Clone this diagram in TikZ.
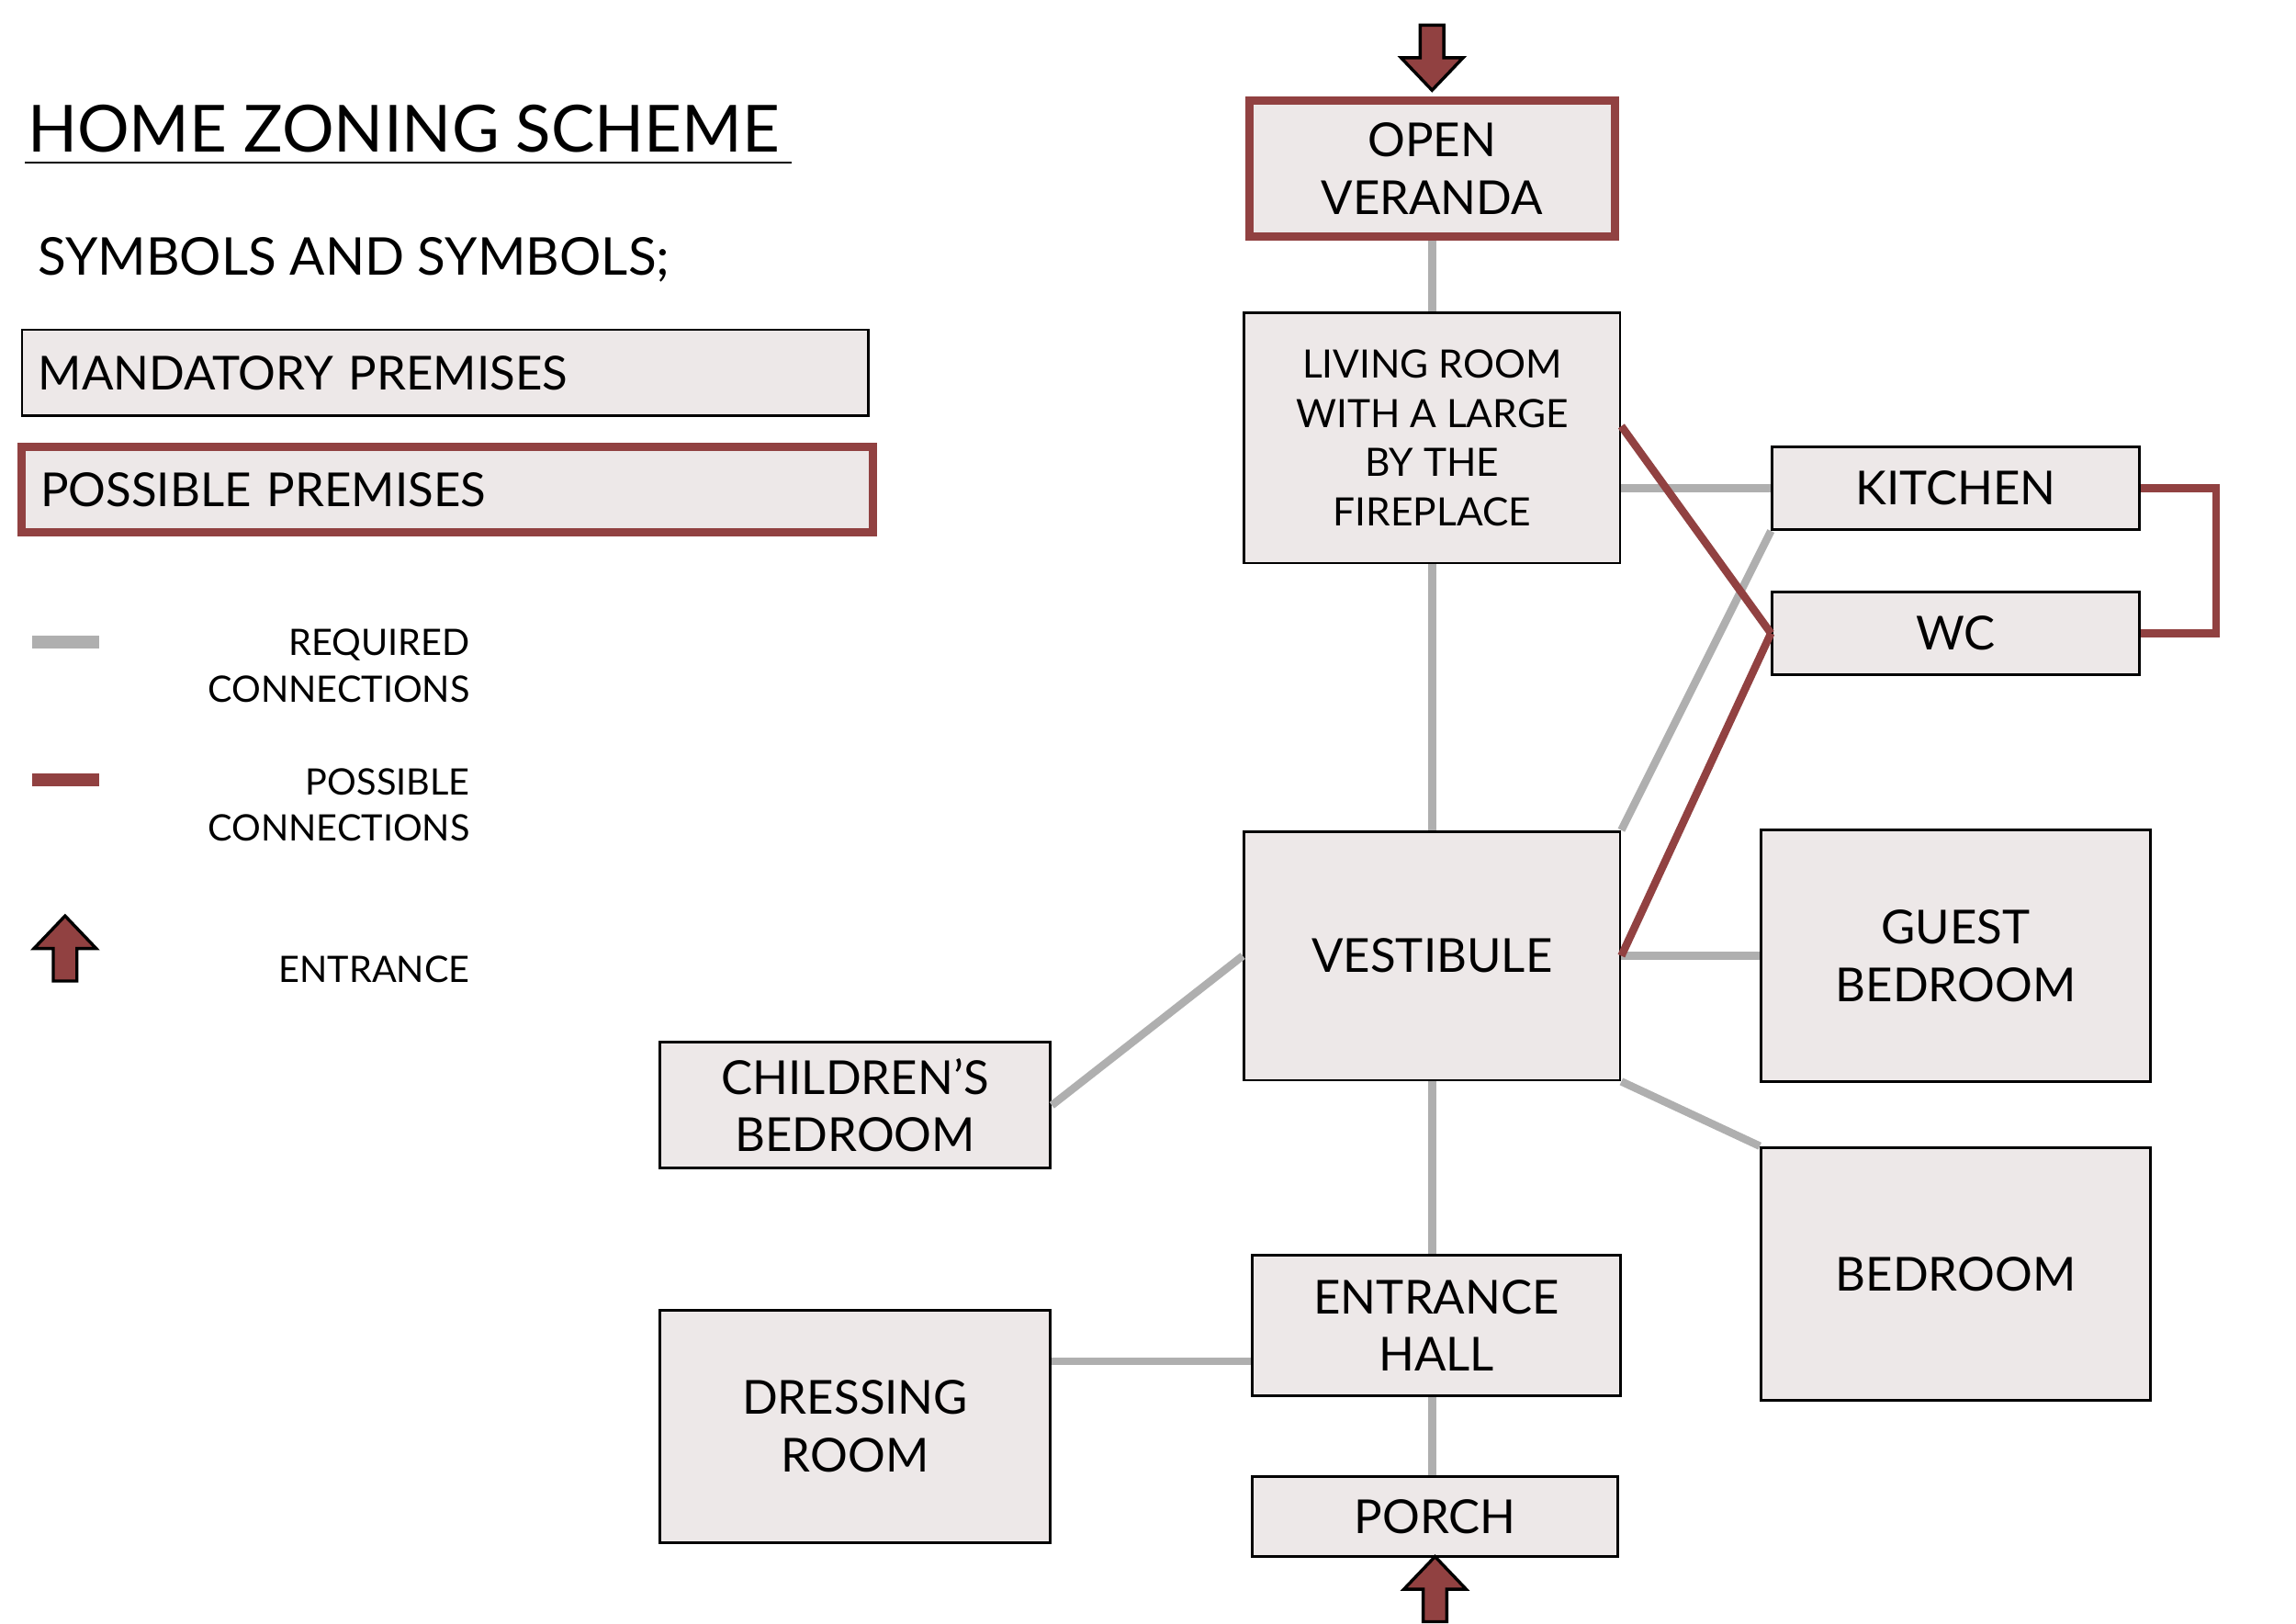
\documentclass[tikz,border=0pt]{standalone}
\usepackage{fontspec}
\setmainfont{Lato}
\usetikzlibrary{positioning}
\definecolor{roomfill}{RGB}{237,232,232}
\definecolor{possred}{RGB}{145,65,65}
\definecolor{reqgray}{RGB}{175,175,175}
\tikzset{
  room/.style = {rectangle, draw=black, fill=roomfill, line width=0.5pt, align=center, font=\fontsize{9}{11}\selectfont, inner sep=0pt},
  optroom/.style = {room, draw=possred, line width=1.6pt},
  req/.style = {draw=reqgray, line width=1.5pt},
  opt/.style = {draw=possred, line width=1.5pt},
  legtext/.style = {align=right, font=\fontsize{7}{9}\selectfont, anchor=east},
  pics/entrance/.style = {code={
    \draw[fill=possred, line width=0.6pt] (-8,0) -- (-8,-22) -- (-21,-22) -- (0,-44) -- (21,-22) -- (8,-22) -- (8,0) -- cycle;
  }}
}
\begin{document}
\begin{tikzpicture}[x=0.01cm, y=-0.01cm]
   \useasboundingbox (0,0) rectangle (1552,1097);
   % Legend
   \node [anchor=base west, inner sep=0pt, font=\fontsize{12.5}{14}\selectfont] (title) at (18,103) {HOME ZONING SCHEME};
   \draw[line width=0.4pt] (17,110) -- (535,110);
   \node [anchor=base west, inner sep=0pt, font=\fontsize{10}{12}\selectfont] (symb) at (25,186) {SYMBOLS AND SYMBOLS;};
   \node [room, minimum width=5.72cm, minimum height=0.58cm, anchor=north west, text width=5.5cm, align=left] (mand) at (14,222) {MANDATORY PREMISES};
   \node [optroom, minimum width=5.75cm, minimum height=0.58cm, anchor=north west, text width=5.5cm, align=left] (poss) at (12,299) {POSSIBLE PREMISES};
   \coordinate (rq1) at (22,434); \coordinate (rq2) at (67,434);
   \draw[req, line width=2.5pt] (rq1) -- (rq2);
   \node [legtext] (rqtext) at (330,450) {REQUIRED\\CONNECTIONS};
   \coordinate (ps1) at (22,527); \coordinate (ps2) at (67,527);
   \draw[opt, line width=2.5pt] (ps1) -- (ps2);
   \node [legtext] (pstext) at (330,544) {POSSIBLE\\CONNECTIONS};
   \pic at (44,663) {entrance};
   \node [legtext] (entext) at (330,655) {ENTRANCE};

   % Place rooms
   \node [optroom, minimum width=2.47cm, minimum height=0.92cm] (veranda) at (968,114) {OPEN\\VERANDA};
   \node [room, minimum width=2.54cm, minimum height=1.69cm, font=\fontsize{7.5}{9.5}\selectfont] (living) at (968,296) {LIVING ROOM\\WITH A LARGE\\BY THE\\FIREPLACE};
   \node [room, minimum width=2.48cm, minimum height=0.56cm] (kitchen) at (1322,330) {KITCHEN};
   \node [room, minimum width=2.48cm, minimum height=0.56cm] (wc) at (1322,428) {WC};
   \node [room, minimum width=2.54cm, minimum height=1.68cm] (vest) at (968,646) {VESTIBULE};
   \node [room, minimum width=2.63cm, minimum height=1.70cm] (guest) at (1322,646) {GUEST\\BEDROOM};
   \node [room, minimum width=2.63cm, minimum height=1.71cm] (bed) at (1322,861) {BEDROOM};
   \node [room, minimum width=2.64cm, minimum height=0.85cm] (child) at (578,747) {CHILDREN'S\\BEDROOM};
   \node [room, minimum width=2.49cm, minimum height=0.95cm] (hall) at (971,896) {ENTRANCE\\HALL};
   \node [room, minimum width=2.64cm, minimum height=1.57cm] (dress) at (578,964) {DRESSING\\ROOM};
   \node [room, minimum width=2.47cm, minimum height=0.54cm] (porch) at (970,1025) {PORCH};

   % Required connections
   \draw[req] (veranda) -- (living);
   \draw[req] (living.east |- kitchen.west) -- (kitchen.west);
   \draw[req] (vest.north east) -- (kitchen.south west);
   \draw[req] (living) -- (vest);
   \draw[req] (vest.east) -- (guest.west);
   \draw[req] (vest.south east) -- (bed.north west);
   \draw[req] (vest.west) -- (child.east);
   \draw[req] (vest.south) -- (vest.south |- hall.north);
   \draw[req] (hall.west |- 0,920) -- (dress.east |- 0,920);
   \draw[req] (vest.south |- hall.south) -- (vest.south |- porch.north);

   % Possible connections
   \draw[opt] (living.east |- 0,288) -- (wc.west);
   \draw[opt] (wc.west) -- (vest.east);
   \draw[opt] (kitchen.east) -- ++(51,0) |- (wc.east);

   % Entrances
   \pic at (968,17) [rotate=180] {entrance};
   \pic at (970,1096) {entrance};
\end{tikzpicture}
\end{document}
